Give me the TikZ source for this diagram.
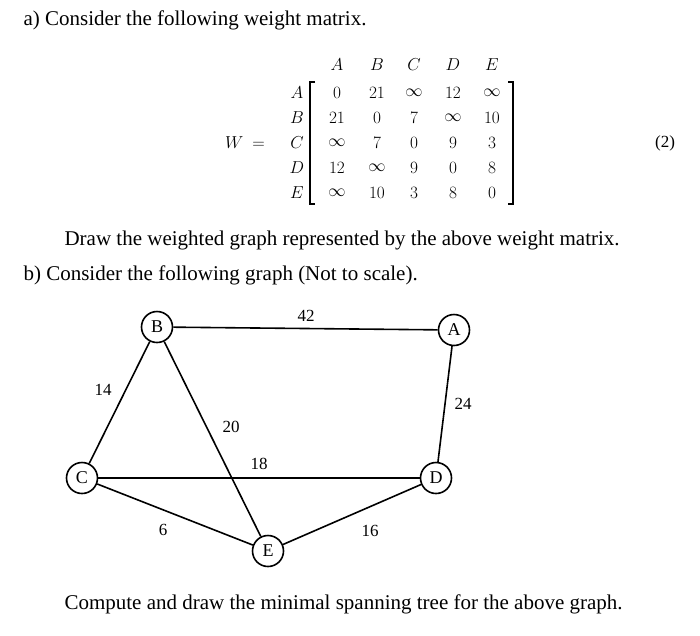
\documentclass[tikz,border=0pt]{standalone}
\usepackage{fontspec}
\setmainfont{Liberation Serif}
\begin{document}
\begin{tikzpicture}[x=1pt,y=-1pt,
  vtx/.style={circle,draw,line width=1.6pt,minimum size=31pt,inner sep=0pt,font=\fontsize{18}{18}\selectfont},
  edge/.style={line width=1.6pt},
  wt/.style={font=\fontsize{17}{17}\selectfont},
  txt/.style={anchor=west,font=\fontsize{21}{24}\selectfont},
  mt/.style={font=\fontsize{17}{17}\selectfont}]
\useasboundingbox (0,0) rectangle (700,635);
\node[txt] (ta) at (20,20) {a) Consider the following weight matrix.};
% matrix
\foreach \l/\x in {A/337,B/377,C/414,D/453,E/492} \node[mt] (h\l) at (\x,65) {$\l$};
\foreach \l/\y in {A/93,B/118,C/143,D/168,E/193} \node[mt] (r\l) at (297,\y) {$\l$};
\foreach \r/\y/\a/\b/\c/\d/\e in {A/93/0/21/\infty/12/\infty, B/118/21/0/7/\infty/10, C/143/\infty/7/0/9/3, D/168/12/\infty/9/0/8, E/193/\infty/10/3/8/0}{
  \node[mt] (m\r1) at (337,\y) {$\a$};
  \node[mt] (m\r2) at (377,\y) {$\b$};
  \node[mt] (m\r3) at (414,\y) {$\c$};
  \node[mt] (m\r4) at (453,\y) {$\d$};
  \node[mt] (m\r5) at (492,\y) {$\e$};
}
\draw[line width=1.2pt] (315,82) -- (310,82) -- (310,204) -- (315,204);
\draw[line width=1.2pt] (508,82) -- (513,82) -- (513,204) -- (508,204);
\node[mt] (W) at (245,143) {$W\ =$};
\node[mt] (two) at (665,143) {(2)};
\node[txt] (td) at (61,240) {Draw the weighted graph represented by the above weight matrix.};
\node[txt] (tb) at (20,275) {b) Consider the following graph (Not to scale).};
% graph
\node[vtx] (B) at (157,327) {B};
\node[vtx] (A) at (454,330) {A};
\node[vtx] (C) at (82,478) {C};
\node[vtx] (D) at (436,478) {D};
\node[vtx] (E) at (268,551) {E};
\draw[edge] (B) -- (A);
\draw[edge] (B) -- (C);
\draw[edge] (B) -- (E);
\draw[edge] (C) -- (D);
\draw[edge] (C) -- (E);
\draw[edge] (D) -- (E);
\draw[edge] (A) -- (D);
\node[wt] (w42) at (306,316) {42};
\node[wt] (w14) at (103,390) {14};
\node[wt] (w24) at (463,404) {24};
\node[wt] (w20) at (231,427) {20};
\node[wt] (w18) at (259,464) {18};
\node[wt] (w6) at (163,530) {6};
\node[wt] (w16) at (370,531) {16};
\node[txt] (tc) at (61,604) {Compute and draw the minimal spanning tree for the above graph.};
\end{tikzpicture}
\end{document}
